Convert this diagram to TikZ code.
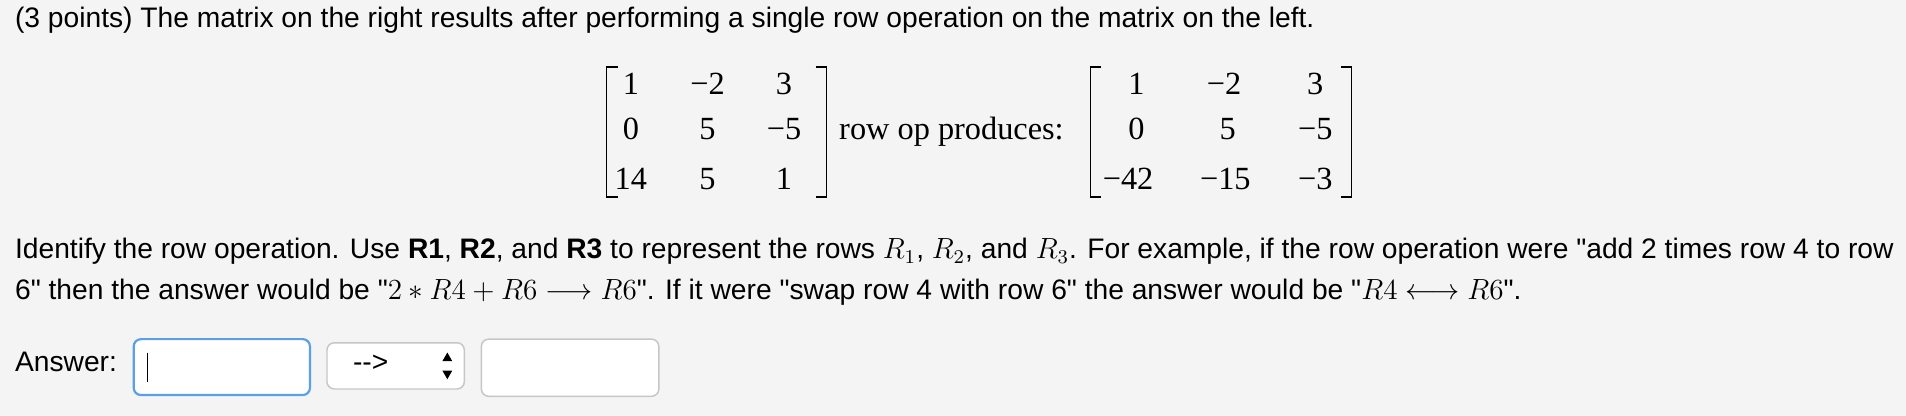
\documentclass[tikz,border=0pt]{standalone}
\usepackage{amsmath}
\usepackage{fontspec}
\setmainfont[Ligatures=NoCommon]{Liberation Sans}
\newfontfamily\ser{Liberation Serif}
\newcommand{\qq}{\textquotedbl}
\begin{document}
\begin{tikzpicture}[x=0.5pt,y=-0.5pt,
  txt/.style={anchor=base west,inner sep=0pt,font=\fontsize{11.6}{14}\selectfont},
  num/.style={anchor=base,inner sep=0pt,font=\ser\fontsize{13.3}{15}\selectfont},
  brk/.style={line width=0.6pt},
  box/.style={draw=gray!45,rounded corners=3pt,fill=white,line width=0.6pt}]
\fill[fill={rgb,255:red,244;green,244;blue,244}] (0,0) rectangle (1568,342);
\useasboundingbox (0,0) rectangle (1568,342);
\node[txt] (t1) at (12,23) {(3 points) The matrix on the right results after performing a single row operation on the matrix on the left.};
\node[num] (a11) at (519,78) {1};
\node[num] (a12) at (582,78) {−2};
\node[num] (a13) at (645,78) {3};
\node[num] (a21) at (519,115) {0};
\node[num] (a22) at (582,115) {5};
\node[num] (a23) at (645,115) {−5};
\node[num] (a31) at (519,156) {14};
\node[num] (a32) at (582,156) {5};
\node[num] (a33) at (645,156) {1};
\draw[brk] (508,55) -- (499,55) -- (499,162) -- (508,162);
\draw[brk] (671,55) -- (680,55) -- (680,162) -- (671,162);
\node[num,anchor=base west] (op) at (690,115) {row op produces:};
\node[num] (b11) at (935,78) {1};
\node[num] (b12) at (1007,78) {−2};
\node[num] (b13) at (1082,78) {3};
\node[num] (b21) at (935,115) {0};
\node[num] (b22) at (1010,115) {5};
\node[num] (b23) at (1082,115) {−5};
\node[num] (b31) at (928,156) {−42};
\node[num] (b32) at (1008,156) {−15};
\node[num] (b33) at (1082,156) {−3};
\draw[brk] (906,55) -- (897,55) -- (897,162) -- (906,162);
\draw[brk] (1103,55) -- (1112,55) -- (1112,162) -- (1103,162);
\node[txt] (t2) at (12,213) {Identify the row operation. Use \textbf{R1}, \textbf{R2}, and \textbf{R3} to represent the rows $R_1$, $R_2$, and $R_3$. For example, if the row operation were \qq add 2 times row 4 to row};
\node[txt] (t3) at (12,246) {6\qq{} then the answer would be \qq$2*R4+R6\longrightarrow R6$\qq. If it were \qq swap row 4 with row 6\qq{} the answer would be \qq$R4\longleftrightarrow R6$\qq.};
\node[txt] (ans) at (12,306) {Answer:};
\draw[box,draw={rgb,255:red,90;green,160;blue,230},line width=0.9pt] (110,279) rectangle (255,325);
\draw (121,290) -- (121,314);
\draw[box] (269,282) rectangle (382,320);
\node[txt] (sel) at (290,306) {-{}->};
\fill (368,290) -- (364,297) -- (372,297) -- cycle;
\fill (368,312) -- (364,305) -- (372,305) -- cycle;
\draw[box] (396,279) rectangle (542,326);
\end{tikzpicture}
\end{document}
